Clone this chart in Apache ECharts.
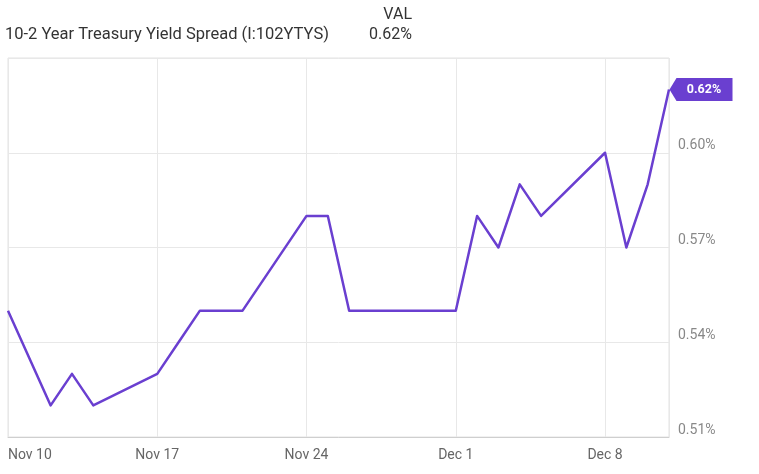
<!DOCTYPE html>
<html>
<head>
<meta charset="utf-8">
<script src="https://cdn.jsdelivr.net/npm/echarts@6/dist/echarts.min.js"></script>
<style>
  html, body { margin: 0; padding: 0; background: #fff; }
  #main { width: 759px; height: 474px; }
</style>
</head>
<body>
<div id="main"></div>
<script>
// trading days and closing spread (%)
var dates = ['2025-11-10', '2025-11-12', '2025-11-13', '2025-11-14', '2025-11-17', '2025-11-18',
  '2025-11-19', '2025-11-20', '2025-11-21', '2025-11-24', '2025-11-25', '2025-11-26', '2025-11-28',
  '2025-12-01', '2025-12-02', '2025-12-03', '2025-12-04', '2025-12-05', '2025-12-08', '2025-12-09',
  '2025-12-10', '2025-12-11'];
var values = [0.55, 0.52, 0.53, 0.52, 0.53, 0.54,
  0.55, 0.55, 0.55, 0.58, 0.58, 0.55, 0.55,
  0.55, 0.58, 0.57, 0.59, 0.58, 0.60, 0.57,
  0.59, 0.62];
var tickLabels = ['Nov 10', 'Nov 17', 'Nov 24', 'Dec 1', 'Dec 8'];
var startDate = '2025-11-10';
var endDate = '2025-12-11';

function dayIndex(s) {
  var p = s.split('-');
  var q = startDate.split('-');
  return Math.round((Date.UTC(+p[0], p[1] - 1, +p[2]) - Date.UTC(+q[0], q[1] - 1, +q[2])) / 86400000);
}

var seriesData = [];
for (var i = 0; i < dates.length; i++) {
  seriesData.push([dayIndex(dates[i]), values[i]]);
}
var last = seriesData[seriesData.length - 1];

var purple = '#6a3fd0';
var headStyle = { fontSize: 16, fontWeight: 'normal', color: '#333', fontFamily: 'Roboto' };
var chart = echarts.init(document.getElementById('main'));
var option = {
  animation: false,
  textStyle: { fontFamily: 'Roboto' },
  title: [
    { text: '10-2 Year Treasury Yield Spread (I:102YTYS)', left: 5, top: 26, padding: 0,
      textStyle: { fontSize: 16.5, fontWeight: 'normal', color: '#333', fontFamily: 'Roboto' } },
    { text: 'VAL', right: 347, top: 7, padding: 0, textStyle: headStyle },
    { text: last[1].toFixed(2) + '%', right: 347, top: 27, padding: 0, textStyle: headStyle }
  ],
  grid: {
    left: 8, right: 90, top: 58, bottom: 37,
    show: true, borderColor: '#e3e3e3', borderWidth: 1
  },
  xAxis: {
    type: 'value',
    min: 0,
    max: dayIndex(endDate),
    interval: 7,
    axisLine: { show: true, lineStyle: { color: '#cfcfcf' } },
    axisTick: { show: false },
    splitLine: { show: true, lineStyle: { color: '#e8e8e8' } },
    axisLabel: {
      color: '#666', fontSize: 14, margin: 11,
      alignMinLabel: 'left',
      formatter: function (v) {
        return v % 7 === 0 ? (tickLabels[v / 7] || '') : '';
      }
    }
  },
  yAxis: {
    type: 'value',
    position: 'right',
    min: 0.51,
    max: 0.63,
    interval: 0.03,
    axisLine: { show: false },
    axisTick: { show: false },
    splitLine: { show: true, lineStyle: { color: '#e8e8e8' } },
    axisLabel: {
      color: '#888', fontSize: 14, margin: 9,
      showMaxLabel: false,
      verticalAlign: 'bottom',
      formatter: function (v) { return v.toFixed(2) + '%'; }
    }
  },
  series: [{
    type: 'line',
    data: seriesData,
    showSymbol: false,
    lineStyle: { color: purple, width: 2.5, join: 'round' },
    markPoint: {
      symbol: 'path://M0,11.5 L7,0 L63,0 L63,23 L7,23 Z',
      symbolSize: [63, 23],
      symbolOffset: [32, 0],
      symbolKeepAspect: false,
      itemStyle: { color: purple },
      label: {
        show: true, color: '#fff', fontSize: 12.5, fontWeight: 'bold',
        offset: [3, 0],
        formatter: function (p) { return p.value.toFixed(2) + '%'; }
      },
      data: [{ coord: last, value: last[1] }]
    }
  }]
};
chart.setOption(option);
</script>
</body>
</html>
